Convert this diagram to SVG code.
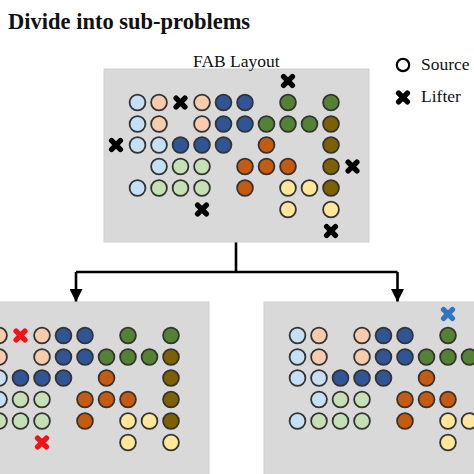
<svg xmlns="http://www.w3.org/2000/svg" xmlns:xlink="http://www.w3.org/1999/xlink" width="474" height="474" viewBox="0 0 474 474">
<style>
.box{fill:#d9d9d9;stroke:#cfcfcf;stroke-width:1}
.s{stroke:#333;stroke-width:1.8}
.lb{fill:#c5dff4}
.pe{fill:#f8cbad}
.db{fill:#2f5597}
.gr{fill:#548235}
.ol{fill:#7f6000}
.or{fill:#c55a11}
.lg{fill:#c5e0b4}
.ye{fill:#ffe699}
.x{stroke-width:5.4;stroke-linecap:round;fill:none}
.xk{stroke:#000}
.xr{stroke:#f01414}
.xb{stroke:#2e75c6}
.conn{stroke:#000;stroke-width:2.6;fill:none}
.t{font-family:"Liberation Serif","Times New Roman",serif;fill:#111}
</style>
<defs>
<path id="cross" d="M-4.4,-4.4 L4.4,4.4 M4.4,-4.4 L-4.4,4.4"/>
<marker id="arr" viewBox="0 0 10 10" refX="10" refY="5" markerWidth="5" markerHeight="5" markerUnits="strokeWidth" orient="auto">
<path d="M0,0 L10,5 L0,10 Z" fill="#000"/>
</marker>
<g id="sources" class="s">
<circle class="lb" cx="137.5" cy="102.5" r="7.9"/>
<circle class="pe" cx="159" cy="102.5" r="7.9"/>
<circle class="pe" cx="202" cy="102.5" r="7.9"/>
<circle class="db" cx="223.5" cy="102.5" r="7.9"/>
<circle class="db" cx="245" cy="102.5" r="7.9"/>
<circle class="gr" cx="288" cy="102.5" r="7.9"/>
<circle class="gr" cx="331" cy="102.5" r="7.9"/>
<circle class="lb" cx="137.5" cy="124" r="7.9"/>
<circle class="pe" cx="159" cy="124" r="7.9"/>
<circle class="pe" cx="202" cy="124" r="7.9"/>
<circle class="db" cx="223.5" cy="124" r="7.9"/>
<circle class="db" cx="245" cy="124" r="7.9"/>
<circle class="gr" cx="266.5" cy="124" r="7.9"/>
<circle class="gr" cx="288" cy="124" r="7.9"/>
<circle class="gr" cx="309.5" cy="124" r="7.9"/>
<circle class="ol" cx="331" cy="124" r="7.9"/>
<circle class="lb" cx="137.5" cy="145" r="7.9"/>
<circle class="lb" cx="159" cy="145" r="7.9"/>
<circle class="db" cx="180.5" cy="145" r="7.9"/>
<circle class="db" cx="202" cy="145" r="7.9"/>
<circle class="db" cx="223.5" cy="145" r="7.9"/>
<circle class="or" cx="266.5" cy="145" r="7.9"/>
<circle class="ol" cx="331" cy="145" r="7.9"/>
<circle class="lb" cx="159" cy="166.5" r="7.9"/>
<circle class="lg" cx="180.5" cy="166.5" r="7.9"/>
<circle class="lg" cx="202" cy="166.5" r="7.9"/>
<circle class="or" cx="245" cy="166.5" r="7.9"/>
<circle class="or" cx="266.5" cy="166.5" r="7.9"/>
<circle class="or" cx="288" cy="166.5" r="7.9"/>
<circle class="ol" cx="331" cy="166.5" r="7.9"/>
<circle class="lb" cx="137.5" cy="188" r="7.9"/>
<circle class="lg" cx="159" cy="188" r="7.9"/>
<circle class="lg" cx="180.5" cy="188" r="7.9"/>
<circle class="lg" cx="202" cy="188" r="7.9"/>
<circle class="or" cx="245" cy="188" r="7.9"/>
<circle class="ye" cx="288" cy="188" r="7.9"/>
<circle class="ye" cx="309.5" cy="188" r="7.9"/>
<circle class="ol" cx="331" cy="188" r="7.9"/>
<circle class="ye" cx="288" cy="209.5" r="7.9"/>
<circle class="ye" cx="331" cy="209.5" r="7.9"/>
</g>
</defs>
<rect width="474" height="474" fill="#fff"/>
<text class="t" x="8" y="29" font-size="22.5" font-weight="bold">Divide into sub-problems</text>
<g id="legend">
<circle cx="403" cy="65" r="6.2" fill="#fff" stroke="#000" stroke-width="2.2"/>
<text class="t" x="421" y="70" font-size="17.5">Source</text>
<use href="#cross" xlink:href="#cross" class="x xk" x="403" y="97.5"/>
<text class="t" x="421" y="102" font-size="17.5">Lifter</text>
</g>
<g id="connectors">
<path class="conn" d="M236,242 V272 M76,272 H397.5"/>
<path class="conn" d="M76,272 V302" marker-end="url(#arr)"/>
<path class="conn" d="M397.5,272 V302" marker-end="url(#arr)"/>
</g>
<g id="fab-layout">
<rect class="box" x="104" y="69" width="265" height="173"/>
<text class="t" x="193" y="67" font-size="17.5">FAB Layout</text>
<use href="#sources" xlink:href="#sources"/>
<g class="x xk">
<use href="#cross" xlink:href="#cross" x="288" y="81"/>
<use href="#cross" xlink:href="#cross" x="180.5" y="102.5"/>
<use href="#cross" xlink:href="#cross" x="116" y="145"/>
<use href="#cross" xlink:href="#cross" x="352.5" y="166.5"/>
<use href="#cross" xlink:href="#cross" x="202" y="209.5"/>
<use href="#cross" xlink:href="#cross" x="331" y="231"/>
</g>
</g>
<g id="sub-problem-1" transform="translate(-160,233)">
<rect class="box" x="104" y="69" width="265" height="173"/>
<use href="#sources" xlink:href="#sources"/>
<g class="x xr">
<use href="#cross" xlink:href="#cross" x="180.5" y="102.5"/>
<use href="#cross" xlink:href="#cross" x="202" y="209.5"/>
</g>
</g>
<g id="sub-problem-2" transform="translate(160,233)">
<rect class="box" x="104" y="69" width="265" height="173"/>
<use href="#sources" xlink:href="#sources"/>
<g class="x xb">
<use href="#cross" xlink:href="#cross" x="288" y="81"/>
</g>
</g>
</svg>
